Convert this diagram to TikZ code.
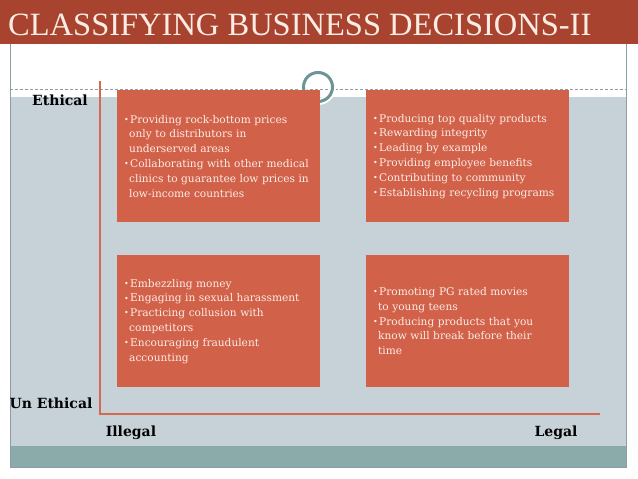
\documentclass[tikz,border=0pt]{standalone}
\usepackage{fontspec}
\setmainfont{Liberation Serif}
\newfontfamily\bodyfont{DejaVu Serif}
\usetikzlibrary{positioning}
\definecolor{titlered}{HTML}{A8432F}
\definecolor{titletext}{HTML}{FBEDE4}
\definecolor{boxred}{HTML}{D2614A}
\definecolor{boxtext}{HTML}{FBEDE6}
\definecolor{axisred}{HTML}{D5694F}
\definecolor{panelgray}{HTML}{C7D1D8}
\definecolor{bandteal}{HTML}{8BABAB}
\definecolor{framegray}{HTML}{8C9EA3}
\definecolor{ringteal}{HTML}{6E9595}
% bullet and hanging indent for the quadrant lists
\newcommand{\bl}{\makebox[6pt][l]{\fontsize{8}{8}\selectfont\raisebox{0.8pt}{\textbullet}}}
\newcommand{\ind}{\hspace*{5pt}}
\begin{document}
\begin{tikzpicture}[x=1pt,y=-1pt,
  quad/.style={fill=boxred,text=boxtext,minimum height=132pt,text width=189pt,inner xsep=7pt,align=left,anchor=north west,font=\bodyfont\fontsize{10.6}{14.8}\selectfont},
  axislabel/.style={font=\bodyfont\bfseries\fontsize{14}{16}\selectfont}]
\useasboundingbox (0,0) rectangle (638,479);
\fill[white] (0,0) rectangle (638,479);
% title bar
\fill[titlered] (0,0) rectangle (638,44);
\node[text=titletext,font=\fontsize{32.5}{36}\selectfont,anchor=west,inner sep=0pt] (title) at (8,25) {CLASSIFYING BUSINESS DECISIONS-II};
% slide body
\fill[panelgray] (10,97) rectangle (626,446);
\fill[bandteal] (10,446) rectangle (626,467);
\draw[framegray,thin] (10,44) -- (10,467) -- (626,467) -- (626,44);
\draw[framegray,densely dashed,very thin] (10,89) -- (626,89);
\draw[white,line width=7pt] (318,87) circle (14.5);
\draw[ringteal,line width=3pt] (318,87) circle (14.5);
% axes
\coordinate (top) at (100,81);
\coordinate (origin) at (100,414);
\coordinate (right) at (600,414);
\draw[axisred,line width=1.5pt] (top) -- (origin) -- (right);
% quadrants
\node[quad] (ethillegal) at (117,90) {\bl Providing rock-bottom prices\\ \ind only to distributors in\\ \ind underserved areas\\ \bl Collaborating with other medical\\ \ind clinics to guarantee low prices in\\ \ind low-income countries};
\node[quad] (ethlegal) at (366,90) {\bl Producing top quality products\\ \bl Rewarding integrity\\ \bl Leading by example\\ \bl Providing employee benefits\\ \bl Contributing to community\\ \bl Establishing recycling programs};
\node[quad] (unillegal) at (117,255) {\bl Embezzling money\\ \bl Engaging in sexual harassment\\ \bl Practicing collusion with\\ \ind competitors\\ \bl Encouraging fraudulent\\ \ind accounting};
\node[quad] (unlegal) at (366,255) {\bl Promoting PG rated movies\\ \ind to young teens\\ \bl Producing products that you\\ \ind know will break before their\\ \ind time};
% axis labels
\node[axislabel] (ethical) at (60,100) {Ethical};
\node[axislabel] (unethical) at (51,403) {Un Ethical};
\node[axislabel] (illegal) at (131,433) {Illegal};
\node[axislabel] (legal) at (556,433) {Legal};
\end{tikzpicture}
\end{document}
